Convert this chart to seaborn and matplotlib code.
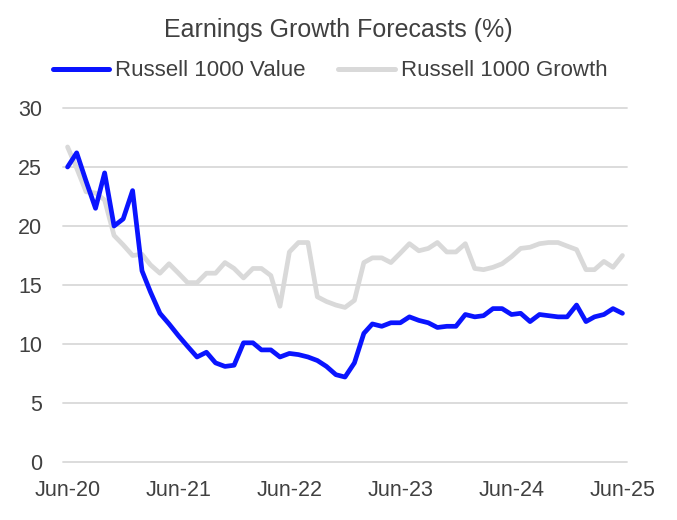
import matplotlib
matplotlib.use("Agg")
import matplotlib.pyplot as plt
import matplotlib.dates as mdates
import numpy as np
import pandas as pd
import seaborn as sns

# monthly earnings growth forecasts, Jun-20 .. Jun-25
months = pd.date_range("2020-06-01", "2025-06-01", freq="MS")

value_growth = [
    25.0, 26.2, 23.8, 21.5, 24.5, 20.0, 20.6, 23.0, 16.2, 14.4,
    12.6, 11.7, 10.7, 9.8, 8.9, 9.3, 8.4, 8.1, 8.2, 10.1,
    10.1, 9.5, 9.5, 8.9, 9.2, 9.1, 8.9, 8.6, 8.1, 7.4,
    7.2, 8.4, 10.9, 11.7, 11.5, 11.8, 11.8, 12.3, 12.0, 11.8,
    11.4, 11.5, 11.5, 12.5, 12.3, 12.4, 13.0, 13.0, 12.5, 12.6,
    11.9, 12.5, 12.4, 12.3, 12.3, 13.3, 11.9, 12.3, 12.5, 13.0,
    12.6,
]
growth_growth = [
    26.7, 24.9, 22.9, 22.8, 22.2, 19.2, 18.4, 17.5, 17.6, 16.7,
    16.0, 16.8, 16.0, 15.2, 15.2, 16.0, 16.0, 16.9, 16.4, 15.6,
    16.4, 16.4, 15.8, 13.2, 17.8, 18.6, 18.6, 14.0, 13.6, 13.3,
    13.1, 13.7, 16.9, 17.3, 17.3, 16.9, 17.7, 18.5, 17.9, 18.1,
    18.6, 17.8, 17.8, 18.5, 16.4, 16.3, 16.5, 16.8, 17.4, 18.1,
    18.2, 18.5, 18.6, 18.6, 18.3, 18.0, 16.3, 16.3, 17.0, 16.5,
    17.5,
]
series_names = ["Russell 1000 Value", "Russell 1000 Growth"]
series_colors = ["#0A14FF", "#D9D9D9"]
y_ticks = [0, 5, 10, 15, 20, 25, 30]

df = pd.DataFrame({
    "month": np.concatenate([months, months]),
    "forecast": value_growth + growth_growth,
    "index": [series_names[0]] * len(months) + [series_names[1]] * len(months),
})

sns.set_style("white")
plt.rcParams["font.family"] = ["Liberation Sans", "DejaVu Sans"]
text_color = "#404040"

fig = plt.figure(figsize=(6.77, 5.2), dpi=100)
ax = fig.add_axes([63 / 677, 1 - 462 / 520, 564 / 677, 354 / 520])

sns.lineplot(
    data=df, x="month", y="forecast", hue="index",
    hue_order=series_names, palette=series_colors,
    linewidth=3.4, ax=ax, legend=False,
)
# keep value line on top of the grey one
ax.lines[0].set_zorder(4)
ax.lines[1].set_zorder(3)

ax.set_ylim(0, 30)
ax.set_yticks(y_ticks)
ax.set_xlim(months[0] - pd.Timedelta(days=15), months[-1] + pd.Timedelta(days=15))
ax.xaxis.set_major_locator(mdates.MonthLocator(bymonth=6))
ax.xaxis.set_major_formatter(mdates.DateFormatter("%b-%y"))

ax.grid(axis="y", color="#D9D9D9", linewidth=1.3)
for line in ax.yaxis.get_gridlines():
    line.set_clip_on(False)
ax.set_axisbelow(True)
sns.despine(ax=ax, left=True, bottom=True)
ax.tick_params(axis="both", length=0, labelsize=15.5, colors=text_color)
ax.tick_params(axis="y", pad=15)
ax.tick_params(axis="x", pad=13)
ax.set_xlabel("")
ax.set_ylabel("")

fig.text(0.5, 1 - 36.7 / 520, "Earnings Growth Forecasts (%)",
         ha="center", va="baseline", fontsize=18, color=text_color)

handles = [plt.Line2D([], [], color=c, linewidth=3.6) for c in series_colors]
leg = fig.legend(
    handles, series_names, loc="center", bbox_to_anchor=(330 / 677, 1 - 71 / 520),
    ncol=2, frameon=False, fontsize=16, handlelength=2.56, handletextpad=0.27,
    columnspacing=1.44, labelcolor=text_color,
)

fig.savefig("out.png", dpi=100)
plt.close(fig)
